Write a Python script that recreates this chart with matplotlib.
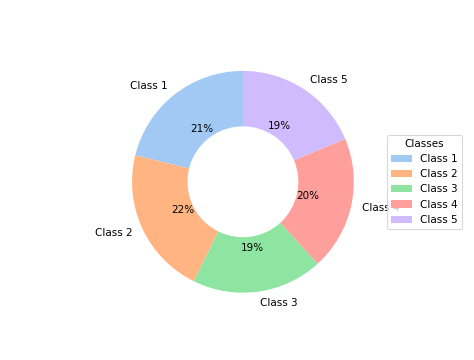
import matplotlib
matplotlib.use("Agg")
import matplotlib.pyplot as plt
import seaborn as sns

labels = ["Class 1", "Class 2", "Class 3", "Class 4", "Class 5"]
values = [21.3, 21.7, 19.2, 19.7, 18.8]

colors = sns.color_palette("pastel")[:5]

fig, ax = plt.subplots(figsize=(6.32, 4.8), dpi=75)
wedges, texts, autotexts = ax.pie(values, labels=labels, colors=colors,
                                  autopct="%1.0f%%", startangle=90,
                                  wedgeprops=dict(width=0.5))
ax.legend(wedges, labels, title="Classes", loc="center left",
          bbox_to_anchor=(1, 0, 0.5, 1))
fig.savefig("out.png", dpi=75)
